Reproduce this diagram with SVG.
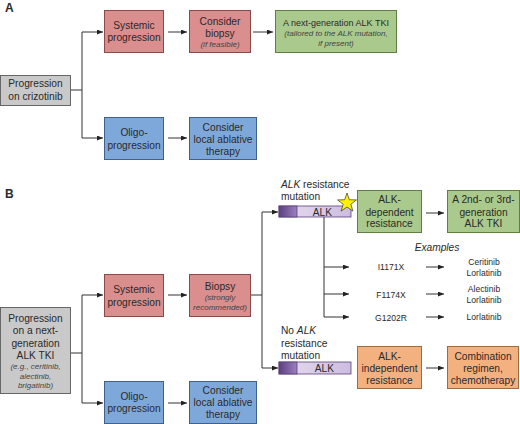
<svg xmlns="http://www.w3.org/2000/svg" width="520" height="424" viewBox="0 0 520 424">
<defs>
<marker id="ah" markerUnits="userSpaceOnUse" markerWidth="6" markerHeight="5" refX="6" refY="2.5" orient="auto"><path d="M0,0 L6,2.5 L0,5 z" fill="#222"/></marker>
<linearGradient id="dk" x1="0" x2="1" y1="0" y2="0"><stop offset="0" stop-color="#5b3f82"/><stop offset="1" stop-color="#9c80bf"/></linearGradient>
<linearGradient id="lt" x1="0" x2="1" y1="0" y2="0"><stop offset="0" stop-color="#e6dcf0"/><stop offset="1" stop-color="#cdbce0"/></linearGradient>
<style>
text{font-family:"Liberation Sans",Arial,sans-serif;fill:#2a2a2a}
.t{font-size:10.2px;text-anchor:middle}
.s{font-size:9px;text-anchor:middle}
.i{font-size:8px;font-style:italic;text-anchor:middle;fill:#444}
.lbl{font-size:12px;font-weight:bold}
.red{fill:#da8e8d;stroke:#8a4a4a;stroke-width:1}
.blue{fill:#7fa8da;stroke:#3f5f8c;stroke-width:1}
.green{fill:#aac98c;stroke:#5f7d45;stroke-width:1}
.gray{fill:#c9c9c9;stroke:#666;stroke-width:1}
.orange{fill:#f4b180;stroke:#9e6a3f;stroke-width:1}
.c{fill:none;stroke:#333;stroke-width:1}
.a{fill:none;stroke:#333;stroke-width:1;marker-end:url(#ah)}
.m{font-size:8.6px;text-anchor:middle}
.bar{stroke:#5a4078;stroke-width:0.8}
</style>
</defs>
<text class="lbl" x="5" y="12">A</text>
<text class="lbl" x="5" y="198">B</text>

<g id="connectors">
<path class="c" d="M71,90 H82 M82,32 V138"/>
<path class="a" d="M82,32 H103"/>
<path class="a" d="M82,138 H103"/>
<path class="a" d="M168,32 H187"/>
<path class="a" d="M253,32 H273"/>
<path class="a" d="M168,138 H187"/>
<path class="c" d="M71,353 H82 M82,295 V403"/>
<path class="a" d="M82,295 H103"/>
<path class="a" d="M82,403 H103"/>
<path class="a" d="M168,295 H187"/>
<path class="a" d="M168,403 H187"/>
<path class="c" d="M251,295 H262 M262,212 V368"/>
<path class="a" d="M262,212 H278"/>
<path class="a" d="M262,368 H278"/>
<path class="a" d="M426,213 H444"/>
<path class="a" d="M426,368 H444"/>
<path class="c" d="M324,217 V317"/>
<path class="a" d="M324,267 H349"/>
<path class="a" d="M324,294 H349"/>
<path class="a" d="M324,317 H349"/>
<path class="a" d="M426,267 H444"/>
<path class="a" d="M426,294 H444"/>
<path class="a" d="M426,317 H444"/>
</g>

<g id="a-start"><rect class="gray" x="0.5" y="75.5" width="70" height="30"/><text class="t" x="35.5" y="87">Progression</text><text class="t" x="35.5" y="99.5">on crizotinib</text></g>
<g id="a-systemic"><rect class="red" x="104.5" y="10.5" width="59" height="42"/><text class="t" x="134" y="29">Systemic</text><text class="t" x="134" y="41">progression</text></g>
<g id="a-biopsy"><rect class="red" x="189.5" y="10.5" width="61" height="42"/><text class="t" x="220" y="24.5">Consider</text><text class="t" x="220" y="37">biopsy</text><text class="i" x="220" y="47">(if feasible)</text></g>
<g id="a-nextgen"><rect class="green" x="275.5" y="10.5" width="121" height="42"/><text class="s" x="336" y="26">A next-generation ALK TKI</text><text class="i" x="336" y="36">(tailored to the ALK mutation,</text><text class="i" x="336" y="46">if present)</text></g>
<g id="a-oligo"><rect class="blue" x="104.5" y="117.5" width="59" height="42"/><text class="t" x="134" y="136">Oligo-</text><text class="t" x="134" y="148.5">progression</text></g>
<g id="a-local"><rect class="blue" x="189.5" y="117.5" width="67" height="42"/><text class="t" x="223" y="130.5">Consider</text><text class="t" x="223" y="142.5">local ablative</text><text class="t" x="223" y="154.5">therapy</text></g>

<g id="b-start"><rect class="gray" x="0.5" y="307.5" width="70" height="86"/><text class="t" x="35.5" y="321.5">Progression</text><text class="t" x="35.5" y="334">on a next-</text><text class="t" x="35.5" y="346.5">generation</text><text class="t" x="35.5" y="358.5">ALK TKI</text><text class="i" x="35.5" y="369">(e.g., ceritinib,</text><text class="i" x="35.5" y="378.5">alectinib,</text><text class="i" x="35.5" y="388">brigatinib)</text></g>
<g id="b-systemic"><rect class="red" x="104.5" y="274.5" width="59" height="42"/><text class="t" x="134" y="293">Systemic</text><text class="t" x="134" y="305.5">progression</text></g>
<g id="b-biopsy"><rect class="red" x="189.5" y="274.5" width="61" height="42"/><text class="t" x="220" y="290">Biopsy</text><text class="i" x="220" y="300">(strongly</text><text class="i" x="220" y="309.5">recommended)</text></g>
<g id="b-oligo"><rect class="blue" x="104.5" y="381.5" width="59" height="42"/><text class="t" x="134" y="400">Oligo-</text><text class="t" x="134" y="412">progression</text></g>
<g id="b-local"><rect class="blue" x="189.5" y="381.5" width="67" height="42"/><text class="t" x="223" y="394">Consider</text><text class="t" x="223" y="406">local ablative</text><text class="t" x="223" y="418">therapy</text></g>

<g id="b-mut"><text style="font-size:10.2px" x="281" y="188"><tspan font-style="italic">ALK</tspan> resistance</text><text style="font-size:10.2px" x="281" y="200">mutation</text>
<rect class="bar" x="279" y="206" width="72" height="11" fill="url(#lt)"/><rect class="bar" x="279" y="206" width="18" height="11" fill="url(#dk)"/><text style="font-size:10.2px" x="332" y="215.5" text-anchor="end">ALK</text>
<polygon points="347,193 349.35,199.76 356.51,199.91 350.8,204.24 352.88,211.09 347,207 341.12,211.09 343.2,204.24 337.49,199.91 344.65,199.76" fill="#fff200" stroke="#333" stroke-width="0.7"/></g>
<g id="b-nomut"><text style="font-size:10.2px" x="281" y="334">No <tspan font-style="italic">ALK</tspan></text><text style="font-size:10.2px" x="281" y="346.5">resistance</text><text style="font-size:10.2px" x="281" y="358.5">mutation</text>
<rect class="bar" x="279" y="362" width="72" height="12" fill="url(#lt)"/><rect class="bar" x="279" y="362" width="18" height="12" fill="url(#dk)"/><text style="font-size:10.2px" x="334" y="372" text-anchor="end">ALK</text></g>
<g id="b-dep"><rect class="green" x="357.5" y="190.5" width="64" height="42"/><text class="t" x="389.5" y="203">ALK-</text><text class="t" x="389.5" y="215.5">dependent</text><text class="t" x="389.5" y="226.5">resistance</text></g>
<g id="b-tki"><rect class="green" x="447.5" y="190.5" width="72" height="42"/><text class="t" x="483.5" y="203">A 2nd- or 3rd-</text><text class="t" x="483.5" y="215.5">generation</text><text class="t" x="483.5" y="226.5">ALK TKI</text></g>
<g id="b-indep"><rect class="orange" x="357.5" y="346.5" width="64" height="42"/><text class="t" x="389.5" y="359.5">ALK-</text><text class="t" x="389.5" y="371.5">independent</text><text class="t" x="389.5" y="383.5">resistance</text></g>
<g id="b-combo"><rect class="orange" x="447.5" y="346.5" width="71" height="42"/><text class="t" x="483" y="359.5">Combination</text><text class="t" x="483" y="371.5">regimen,</text><text class="t" x="483" y="383.5">chemotherapy</text></g>
<g id="b-examples"><text class="t" style="font-style:italic" x="437" y="251">Examples</text>
<text class="m" x="391" y="270">I1171X</text><text class="m" x="391" y="297.5">F1174X</text><text class="m" x="391" y="320.5">G1202R</text>
<text class="m" x="484" y="265">Ceritinib</text><text class="m" x="484" y="275.5">Lorlatinib</text><text class="m" x="484" y="292">Alectinib</text><text class="m" x="484" y="303">Lorlatinib</text><text class="m" x="484" y="320">Lorlatinib</text></g>
</svg>
